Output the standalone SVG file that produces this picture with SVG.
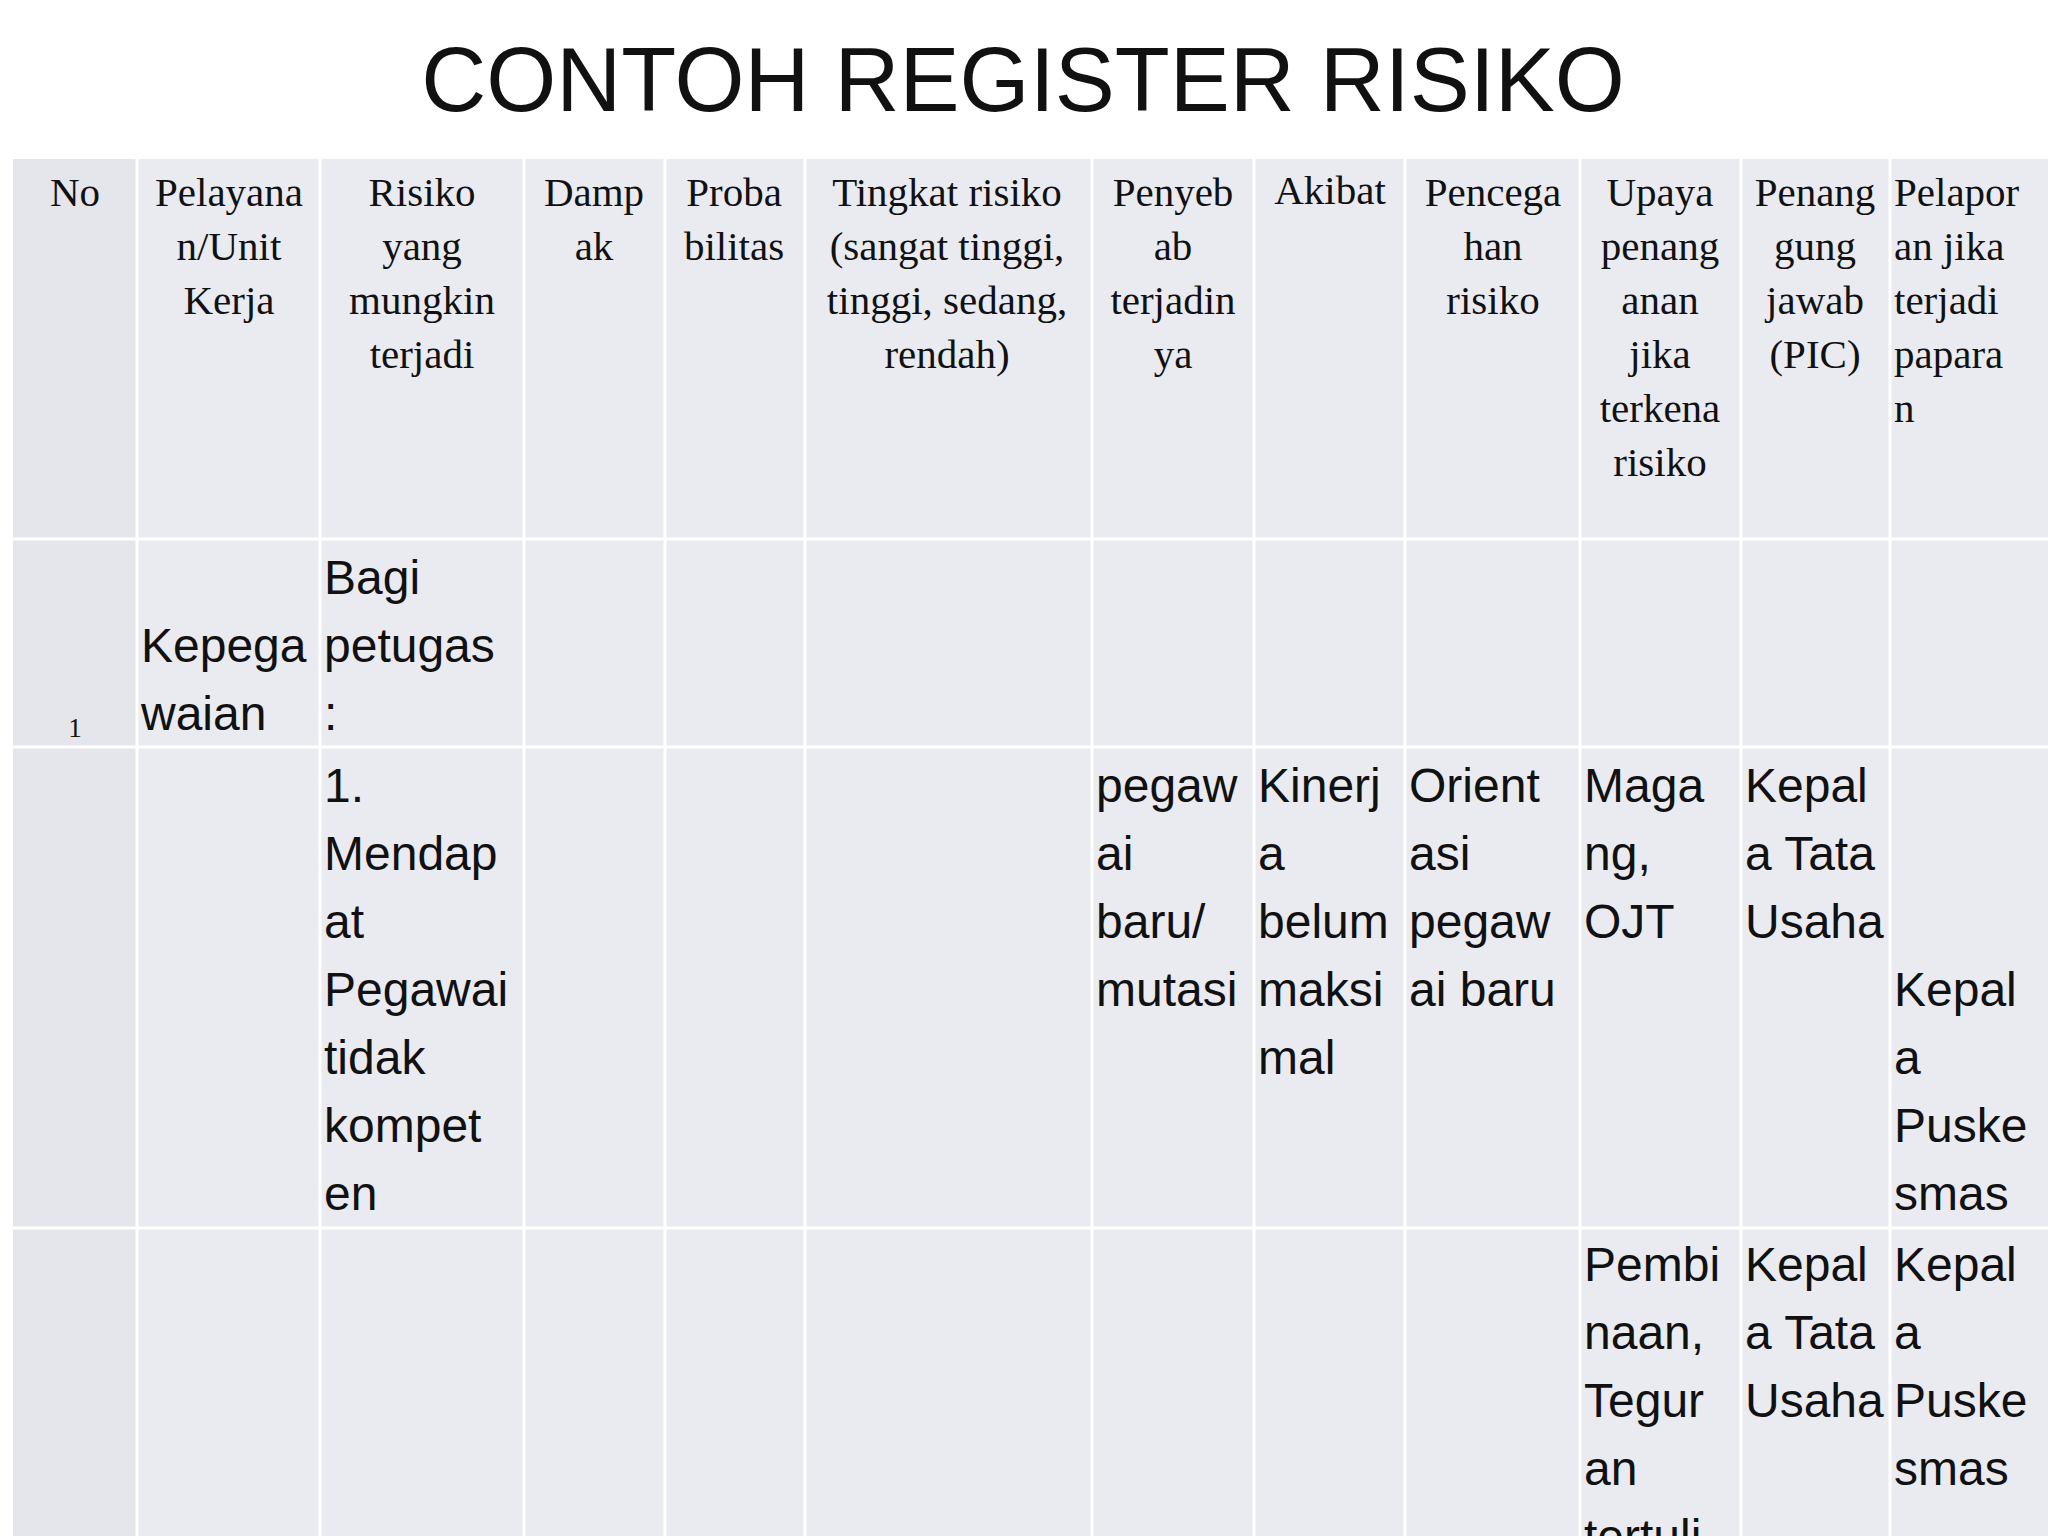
<svg xmlns="http://www.w3.org/2000/svg" width="2048" height="1536" viewBox="0 0 2048 1536">
<style>
.h{font-family:"Liberation Serif",serif;font-size:41px;fill:#111;text-anchor:middle}
.hl{font-family:"Liberation Serif",serif;font-size:41px;fill:#111}
.b{font-family:"Liberation Sans",sans-serif;font-size:48px;fill:#111}
.g{stroke:#fff;stroke-width:3}
</style>
<rect width="2048" height="1536" fill="#fff"/>
<text x="1023" y="111" font-family="Liberation Sans,sans-serif" font-size="90" text-anchor="middle" fill="#111">CONTOH REGISTER RISIKO</text>
<g id="table">
<rect x="13" y="159" width="2035" height="1377" fill="#e9ebf1"/>
<rect x="13" y="159" width="124" height="1377" fill="#e4e6ec"/>
<g class="g">
<line x1="137" y1="159" x2="137" y2="1536"/><line x1="320" y1="159" x2="320" y2="1536"/>
<line x1="524" y1="159" x2="524" y2="1536"/><line x1="665" y1="159" x2="665" y2="1536"/>
<line x1="805" y1="159" x2="805" y2="1536"/><line x1="1092" y1="159" x2="1092" y2="1536"/>
<line x1="1254" y1="159" x2="1254" y2="1536"/><line x1="1405" y1="159" x2="1405" y2="1536"/>
<line x1="1580" y1="159" x2="1580" y2="1536"/><line x1="1741" y1="159" x2="1741" y2="1536"/>
<line x1="1890" y1="159" x2="1890" y2="1536"/>
<line x1="13" y1="539" x2="2048" y2="539"/><line x1="13" y1="747" x2="2048" y2="747"/>
<line x1="13" y1="1228" x2="2048" y2="1228"/>
</g>
</g>
<g id="header">
<text class="h" x="75" y="206">No</text>
<text class="h" x="229" y="206">Pelayana<tspan x="229" dy="54">n/Unit</tspan><tspan x="229" dy="54">Kerja</tspan></text>
<text class="h" x="422" y="206">Risiko<tspan x="422" dy="54">yang</tspan><tspan x="422" dy="54">mungkin</tspan><tspan x="422" dy="54">terjadi</tspan></text>
<text class="h" x="594" y="206">Damp<tspan x="594" dy="54">ak</tspan></text>
<text class="h" x="734" y="206">Proba<tspan x="734" dy="54">bilitas</tspan></text>
<text class="h" x="947" y="206">Tingkat risiko<tspan x="947" dy="54">(sangat tinggi,</tspan><tspan x="947" dy="54">tinggi, sedang,</tspan><tspan x="947" dy="54">rendah)</tspan></text>
<text class="h" x="1173" y="206">Penyeb<tspan x="1173" dy="54">ab</tspan><tspan x="1173" dy="54">terjadin</tspan><tspan x="1173" dy="54">ya</tspan></text>
<text class="h" x="1330" y="204">Akibat</text>
<text class="h" x="1493" y="206">Pencega<tspan x="1493" dy="54">han</tspan><tspan x="1493" dy="54">risiko</tspan></text>
<text class="h" x="1660" y="206">Upaya<tspan x="1660" dy="54">penang</tspan><tspan x="1660" dy="54">anan</tspan><tspan x="1660" dy="54">jika</tspan><tspan x="1660" dy="54">terkena</tspan><tspan x="1660" dy="54">risiko</tspan></text>
<text class="h" x="1815" y="206">Penang<tspan x="1815" dy="54">gung</tspan><tspan x="1815" dy="54">jawab</tspan><tspan x="1815" dy="54">(PIC)</tspan></text>
<text class="hl" x="1894" y="206">Pelapor<tspan x="1894" dy="54">an jika</tspan><tspan x="1894" dy="54">terjadi</tspan><tspan x="1894" dy="54">papara</tspan><tspan x="1894" dy="54">n</tspan></text>
</g>
<g id="row1">
<text x="75" y="737" font-family="Liberation Serif,serif" font-size="27" text-anchor="middle" fill="#111">1</text>
<text class="b" x="141" y="662">Kepega<tspan x="141" dy="68">waian</tspan></text>
<text class="b" x="324" y="594">Bagi<tspan x="324" dy="68">petugas</tspan><tspan x="324" dy="68">:</tspan></text>
</g>
<g id="row2">
<text class="b" x="324" y="802">1.<tspan x="324" dy="68">Mendap</tspan><tspan x="324" dy="68">at</tspan><tspan x="324" dy="68">Pegawai</tspan><tspan x="324" dy="68">tidak</tspan><tspan x="324" dy="68">kompet</tspan><tspan x="324" dy="68">en</tspan></text>
<text class="b" x="1096" y="802">pegaw<tspan x="1096" dy="68">ai</tspan><tspan x="1096" dy="68">baru/</tspan><tspan x="1096" dy="68">mutasi</tspan></text>
<text class="b" x="1258" y="802">Kinerj<tspan x="1258" dy="68">a</tspan><tspan x="1258" dy="68">belum</tspan><tspan x="1258" dy="68">maksi</tspan><tspan x="1258" dy="68">mal</tspan></text>
<text class="b" x="1409" y="802">Orient<tspan x="1409" dy="68">asi</tspan><tspan x="1409" dy="68">pegaw</tspan><tspan x="1409" dy="68">ai baru</tspan></text>
<text class="b" x="1584" y="802">Maga<tspan x="1584" dy="68">ng,</tspan><tspan x="1584" dy="68">OJT</tspan></text>
<text class="b" x="1745" y="802">Kepal<tspan x="1745" dy="68">a Tata</tspan><tspan x="1745" dy="68">Usaha</tspan></text>
<text class="b" x="1894" y="1006">Kepal<tspan x="1894" dy="68">a</tspan><tspan x="1894" dy="68">Puske</tspan><tspan x="1894" dy="68">smas</tspan></text>
</g>
<g id="row3">
<text class="b" x="1584" y="1281">Pembi<tspan x="1584" dy="68">naan,</tspan><tspan x="1584" dy="68">Tegur</tspan><tspan x="1584" dy="68">an</tspan><tspan x="1584" dy="68">tertuli</tspan></text>
<text class="b" x="1745" y="1281">Kepal<tspan x="1745" dy="68">a Tata</tspan><tspan x="1745" dy="68">Usaha</tspan></text>
<text class="b" x="1894" y="1281">Kepal<tspan x="1894" dy="68">a</tspan><tspan x="1894" dy="68">Puske</tspan><tspan x="1894" dy="68">smas</tspan></text>
</g>
</svg>
